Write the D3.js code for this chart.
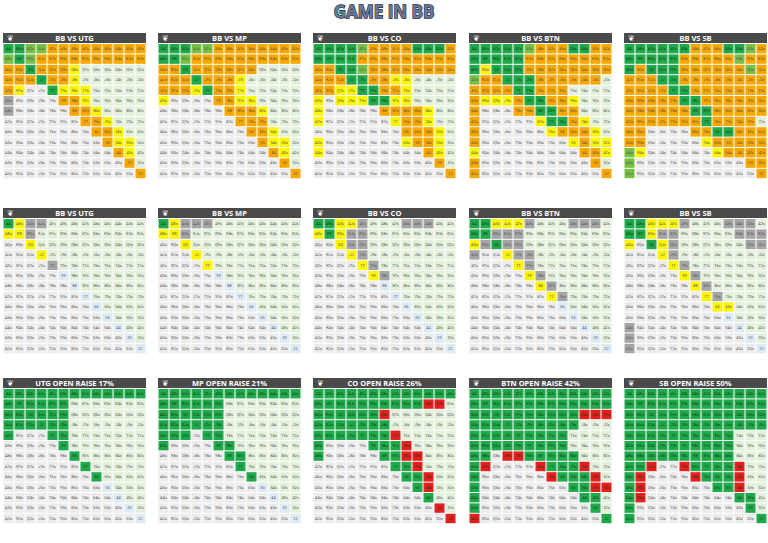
<!DOCTYPE html>
<html>
<head>
<meta charset="utf-8">
<script src="https://cdn.jsdelivr.net/npm/d3@7"></script>
<style>
  body { margin: 0; background: #fff; }
</style>
</head>
<body>
<div id="chart"></div>
<script>
// ranks, grid titles, cell codes
const RANKS = ['A','K','Q','J','T','9','8','7','6','5','4','3','2']
const TITLES = [
  'BB VS UTG','BB VS MP','BB VS CO','BB VS BTN','BB VS SB',
  'BB VS UTG','BB VS MP','BB VS CO','BB VS BTN','BB VS SB',
  'UTG OPEN RAISE 17%','MP OPEN RAISE 21%','CO OPEN RAISE 26%','BTN OPEN RAISE 42%','SB OPEN RAISE 50%'
]
// G dark green, g light green, O orange, Y yellow, S grey, R red, . default
const bbUtg = ['GGggOOOOOOOOO','gGgOOOOOOOOOO','OOGOOOY......','OOOGOOY......','OY..GYYY.....','S....OOY.....','S.....OOY....','.......OOY...','........OOY..','.........OYY.','..........OY.','...........O.','............O']
const bbMp = ['GGGggOOOOOOOO','GGgOOOOOOOOOO','OOGOOOOOO....','OOOGOOOY.....','OOOYGOOY.....','Y....OOYY....','......OOOY...','.......OOO...','........OOY..','.........OYY.','..........OY.','...........O.','............O']
const bbCo = ['GGGGgOOOOGGGO','GGGGOOOOOOOOO','OOGGgOOOOOOOO','OOOGGOOYY....','OOYYGGOOY....','Y.YYYGGYY....','Y.....OOOOY..','Y......YOOY..','........OOOY.','Y.......YOOY.','Y.........OY.','...........O.','............O']
const bbBtn = ['GGGGGgOOOGGOO','GGGGGOOOOOOOO','GYGGGOOOOOOOO','gOOGGGOOOOOO.','OOOOGGOOO....','OYYYOGGOOY...','O...OOGGOO...','O.....YGGOY..','O......YOOOY.','O........YOYY','Y.........OOY','O..........O.','O...........O']
const bbSb = ['GGGGGGOOOGGgO','GGGGGOOOOOgOO','GOGGGOOOOOOgO','OOOGGOOOOOOOO','OOOOGGOOOOOOO','OOOOOGGOOOOOO','OOOOOOGGOOOOO','OOOOOOOGOOOO.','OO....OOGGOOO','OO.....YOOOOO','gY......YOOOO','g..........OO','g...........O']
const bbUtg2 = ['GYSS.........','YYS..........','..Y..........','...Y.........','....S........','.............','.............','.............','.............','.............','.............','.............','.............']
const bbMp2 = ['GYSSS........','YYS..........','..Y..........','...Y.........','....Y........','.............','.............','.............','.............','.............','.............','.............','.............']
const bbCo2 = ['GGYYS...SSS..','YGYSS........','..YSS........','...YS........','....YS.......','.....YS......','.............','.............','.............','.............','.............','.............','.............']
const bbBtn2 = ['GGYYYS...SSS.','GGSSS........','YSGSS........','S..YSS.......','....YS.......','.....YS......','......YS.....','.......YS....','.............','.............','.............','.............','.............']
const bbSb2 = ['GGYYYS...SSS.','GGYSS.....SSS','Y.GYS......SS','...YS........','....YS.......','.....YS......','......YS.....','.......YS....','........YY...','.............','S............','S............','S............']
const utgOpen = ['GGGGGGGGGGGGG','GGGGGG.......','GGGGGG.......','GGGGGG.......','G...GG.......','.....G.......','......G......','.......G.....','........G....','.............','.............','.............','.............']
const mpOpen = ['GGGGGGGGGGGGG','GGGGGG.......','GGGGGG.......','GGGGGG.......','GGG.GG.......','G....GG......','......GG.....','.......G.....','........G....','.............','.............','.............','.............']
const coOpen = ['GGGGGGGGGGGGG','GGGGGGGGGGRR.','GGGGGGR......','GGGGGGG......','GGGGGGGR.....','G....GGGR....','G.....GGRR...','.......GGR...','........GGR..','.........GR..','..........G..','...........R.','............R']
const btnOpen = ['GGGGGGGGGGGGG','GGGGGGGGGGGGG','GGGGGGGGGGRRR','GGGGGGGGGG...','GGGGGGGGG....','GGGGGGGGG....','GG.RRGGGGG...','GR....RGGGR..','G......RGGGR.','G........GGRR','G.........GG.','G..........G.','R...........G']
const sbOpen = ['GGGGGGGGGGGGG','GGGGGGGGGGGGG','GGGGGGGGGGGGG','GGGGGGGGGGGGG','GGGGGGGGGG...','GGGGGGGGGG...','GGGGGGGGGG...','GGR..RGGGGR..','GR....RGGGR..','GR......GGR..','GR........GG.','G..........G.','G...........G']
const GRIDS = [bbUtg, bbMp, bbCo, bbBtn, bbSb, bbUtg2, bbMp2, bbCo2, bbBtn2, bbSb2, utgOpen, mpOpen, coOpen, btnOpen, sbOpen]

const COLORS = { G: '#1fa94b', g: '#78c043', O: '#f7a700', Y: '#fbf505', S: '#a5a5a5', R: '#e61e1e' }
const SUITED = '#e3f0db', OFFSUIT = '#ececec', PAIR = '#deebf6'

const WIDTH = 768, HEIGHT = 543
const GRID_X = [3, 158, 313, 469, 624]
const GRID_Y = [33, 208, 378]
const CELL_W = 11, CELL_H = 10.4, HEAD = 10

const svg = d3.select('#chart').append('svg')
  .attr('width', WIDTH).attr('height', HEIGHT)

svg.append('text')
  .attr('x', 384).attr('y', 18)
  .attr('text-anchor', 'middle')
  .style('font-family', 'Open Sans, sans-serif')
  .style('font-weight', 'bold').style('font-size', '17px')
  .style('fill', '#6b7a94').style('stroke', '#1f2940').style('stroke-width', 1.3)
  .style('paint-order', 'stroke')
  .text('GAME IN BB')

const idx = d3.range(13)

GRIDS.forEach((grid, k) => {
  const gx = GRID_X[k % 5], gy = GRID_Y[Math.floor(k / 5)]
  const x = d3.scaleBand().domain(idx).range([gx, gx + CELL_W * 13])
  const y = d3.scaleBand().domain(idx).range([gy + HEAD + 0.5, gy + HEAD + 0.5 + CELL_H * 13])
  const g = svg.append('g')

  g.append('rect')
    .attr('x', gx).attr('y', gy).attr('width', CELL_W * 13).attr('height', HEAD)
    .style('fill', '#4a4a4a')
  g.append('text')
    .attr('x', gx + 4).attr('y', gy + 8)
    .style('font-size', '8px').style('fill', '#fff').style('font-family', 'DejaVu Sans')
    .text('❦')
  g.append('text')
    .attr('x', gx + CELL_W * 6.5).attr('y', gy + 8)
    .attr('text-anchor', 'middle')
    .style('font-family', 'Open Sans, sans-serif').style('font-weight', 'bold')
    .style('font-size', '7.5px').style('fill', '#fff')
    .text(TITLES[k])

  const cells = []
  idx.forEach(r => idx.forEach(c => cells.push({ r, c, code: grid[r][c] })))

  const cg = g.selectAll('g.cell').data(cells).enter().append('g')
  cg.append('rect')
    .attr('x', d => x(d.c) + 0.5).attr('y', d => y(d.r) + 0.5)
    .attr('width', x.bandwidth() - 1).attr('height', y.bandwidth() - 1)
    .style('fill', d => COLORS[d.code] || (d.r === d.c ? PAIR : d.c > d.r ? SUITED : OFFSUIT))
  cg.append('text')
    .attr('x', d => x(d.c) + x.bandwidth() / 2).attr('y', d => y(d.r) + y.bandwidth() / 2 + 1.3)
    .attr('text-anchor', 'middle')
    .style('font-family', 'Roboto, sans-serif').style('font-size', '3.8px')
    .style('fill', d => d.code === 'G' || d.code === 'R' ? '#1a3a1a' : '#555')
    .text(d => d.r === d.c ? RANKS[d.r] + RANKS[d.c]
      : d.c > d.r ? RANKS[d.r] + RANKS[d.c] + 's' : RANKS[d.c] + RANKS[d.r] + 'o')
})
</script>
</body>
</html>
